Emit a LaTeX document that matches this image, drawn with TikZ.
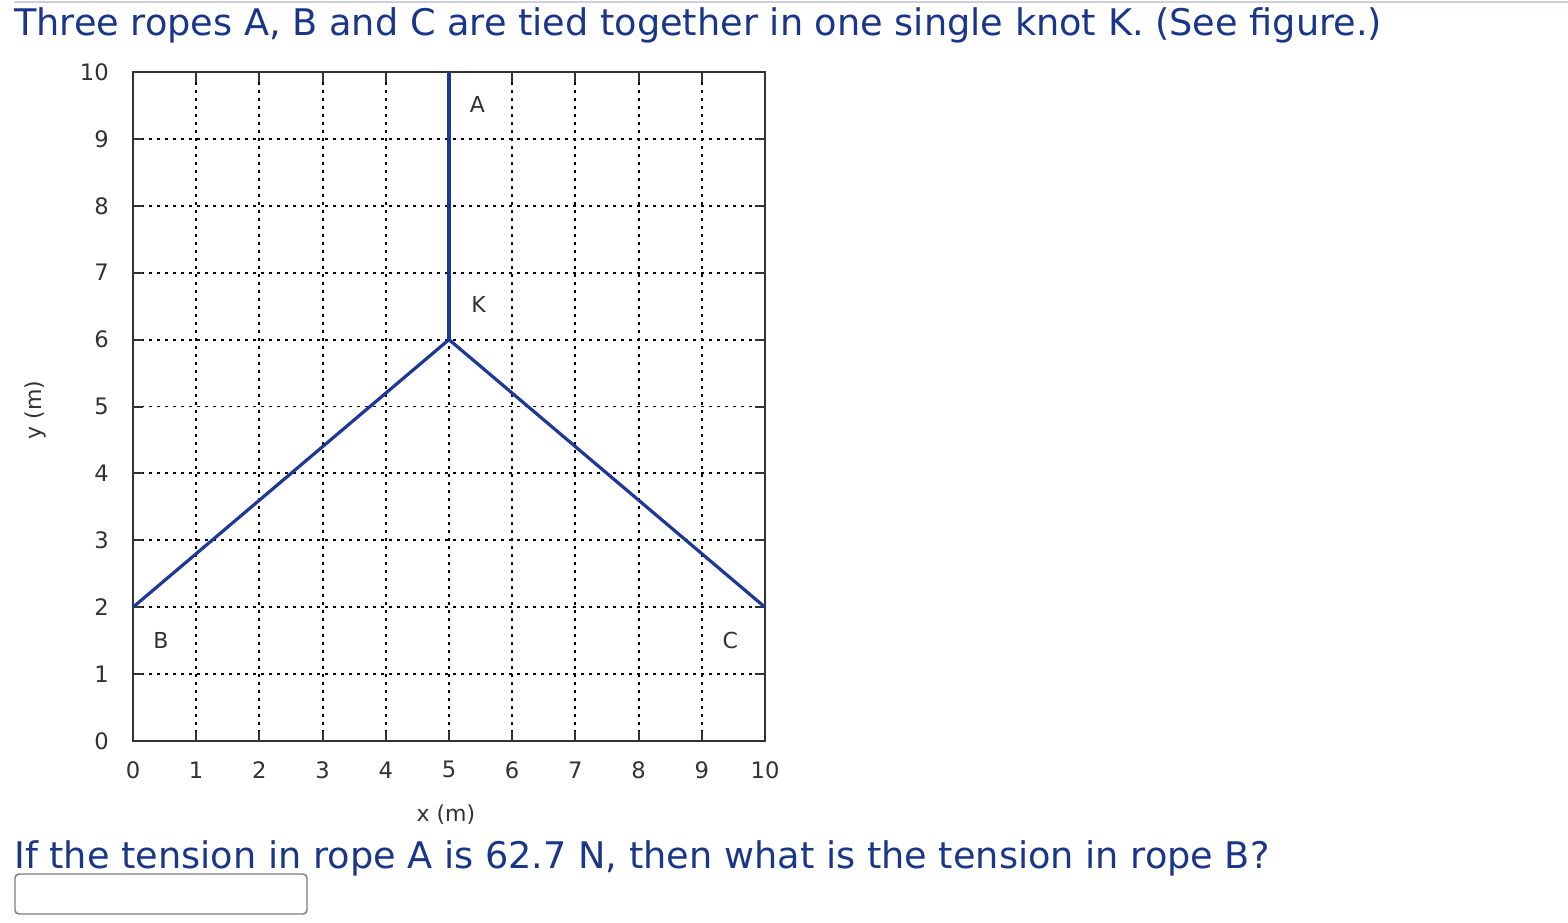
\documentclass[tikz,border=0pt]{standalone}
\usepackage{fontspec}
\setmainfont{DejaVu Sans}
\definecolor{qblue}{RGB}{26,54,136}
\definecolor{ropeblue}{RGB}{30,56,150}
\definecolor{axisgray}{RGB}{50,50,50}
\definecolor{lblgray}{RGB}{50,50,50}
\definecolor{rulegray}{RGB}{205,207,222}
\definecolor{boxgray}{RGB}{125,125,125}
\tikzset{
  qtext/.style={text=qblue, font=\fontsize{27.5}{30}\selectfont, inner sep=0pt},
  ticklbl/.style={text=lblgray, font=\fontsize{17}{19}\selectfont, inner sep=0pt},
  axlbl/.style={text=lblgray, font=\fontsize{16.5}{18}\selectfont, inner sep=0pt},
  ptlbl/.style={text=lblgray, font=\fontsize{16.5}{18}\selectfont, inner sep=0pt},
  gridline/.style={black, line width=1.4pt, dash pattern=on 2.1pt off 3.9pt},
  frameline/.style={axisgray, line width=1.5pt},
  ropeline/.style={ropeblue, line width=2.4pt, line join=round},
  topline/.style={rulegray, line width=1.8pt},
  inbox/.style={draw=boxgray, line width=1.1pt, rounded corners=3pt, minimum width=219pt, minimum height=30pt, inner sep=0pt}
}
\begin{document}
\begin{tikzpicture}[x=0.75pt,y=-0.75pt]
\useasboundingbox (0,0) rectangle (1568,922);
\fill[white] (0,0) rectangle (1568,922);
\coordinate (rl) at (14,2);
\coordinate (rr) at (1568,2);
\draw[topline] (rl) -- (rr);
\node[qtext, anchor=base west] (title) at (14,35) {Three ropes A, B and C are tied together in one single knot K. (See figure.)};
\node[qtext, anchor=base west] (question) at (14,868) {If the tension in rope A is 62.7 N, then what is the tension in rope B?};
\node[inbox] (answer) at (161,894) {};
\begin{scope}[shift={(133,741)}, x={(47.4pt,0pt)}, y={(0pt,50.175pt)}]
  \foreach \i in {1,...,9} {
    \draw[gridline] (\i,0) -- (\i,10);
    \draw[gridline] (0,\i) -- (10,\i);
  }
  \foreach \i in {1,...,9} {
    \draw[frameline] (\i,0) -- ++(0,0.15);
    \draw[frameline] (\i,10) -- ++(0,-0.15);
    \draw[frameline] (0,\i) -- ++(0.16,0);
    \draw[frameline] (10,\i) -- ++(-0.16,0);
  }
  \draw[frameline] (0,0) rectangle (10,10);
  \foreach \i in {0,...,10} {
    \node[ticklbl, anchor=east] (yt\i) at (-0.38,\i) {\i};
    \node[ticklbl] (xt\i) at (\i,-0.43) {\i};
  }
  \node[axlbl] (xlab) at (4.95,-1.1) {x (m)};
  \node[axlbl, rotate=90] (ylab) at (-1.55,4.95) {y (m)};
  \coordinate (K) at (5,6);
  \coordinate (Atop) at (5,10);
  \coordinate (Bend) at (0,2);
  \coordinate (Cend) at (10,2);
  \draw[ropeline] (Atop) -- (K);
  \draw[ropeline] (Bend) -- (K) -- (Cend);
  \node[ptlbl] (la) at (5.45,9.52) {A};
  \node[ptlbl] (lk) at (5.47,6.52) {K};
  \node[ptlbl] (lb) at (0.44,1.51) {B};
  \node[ptlbl] (lc) at (9.45,1.51) {C};
\end{scope}
\end{tikzpicture}
\end{document}
